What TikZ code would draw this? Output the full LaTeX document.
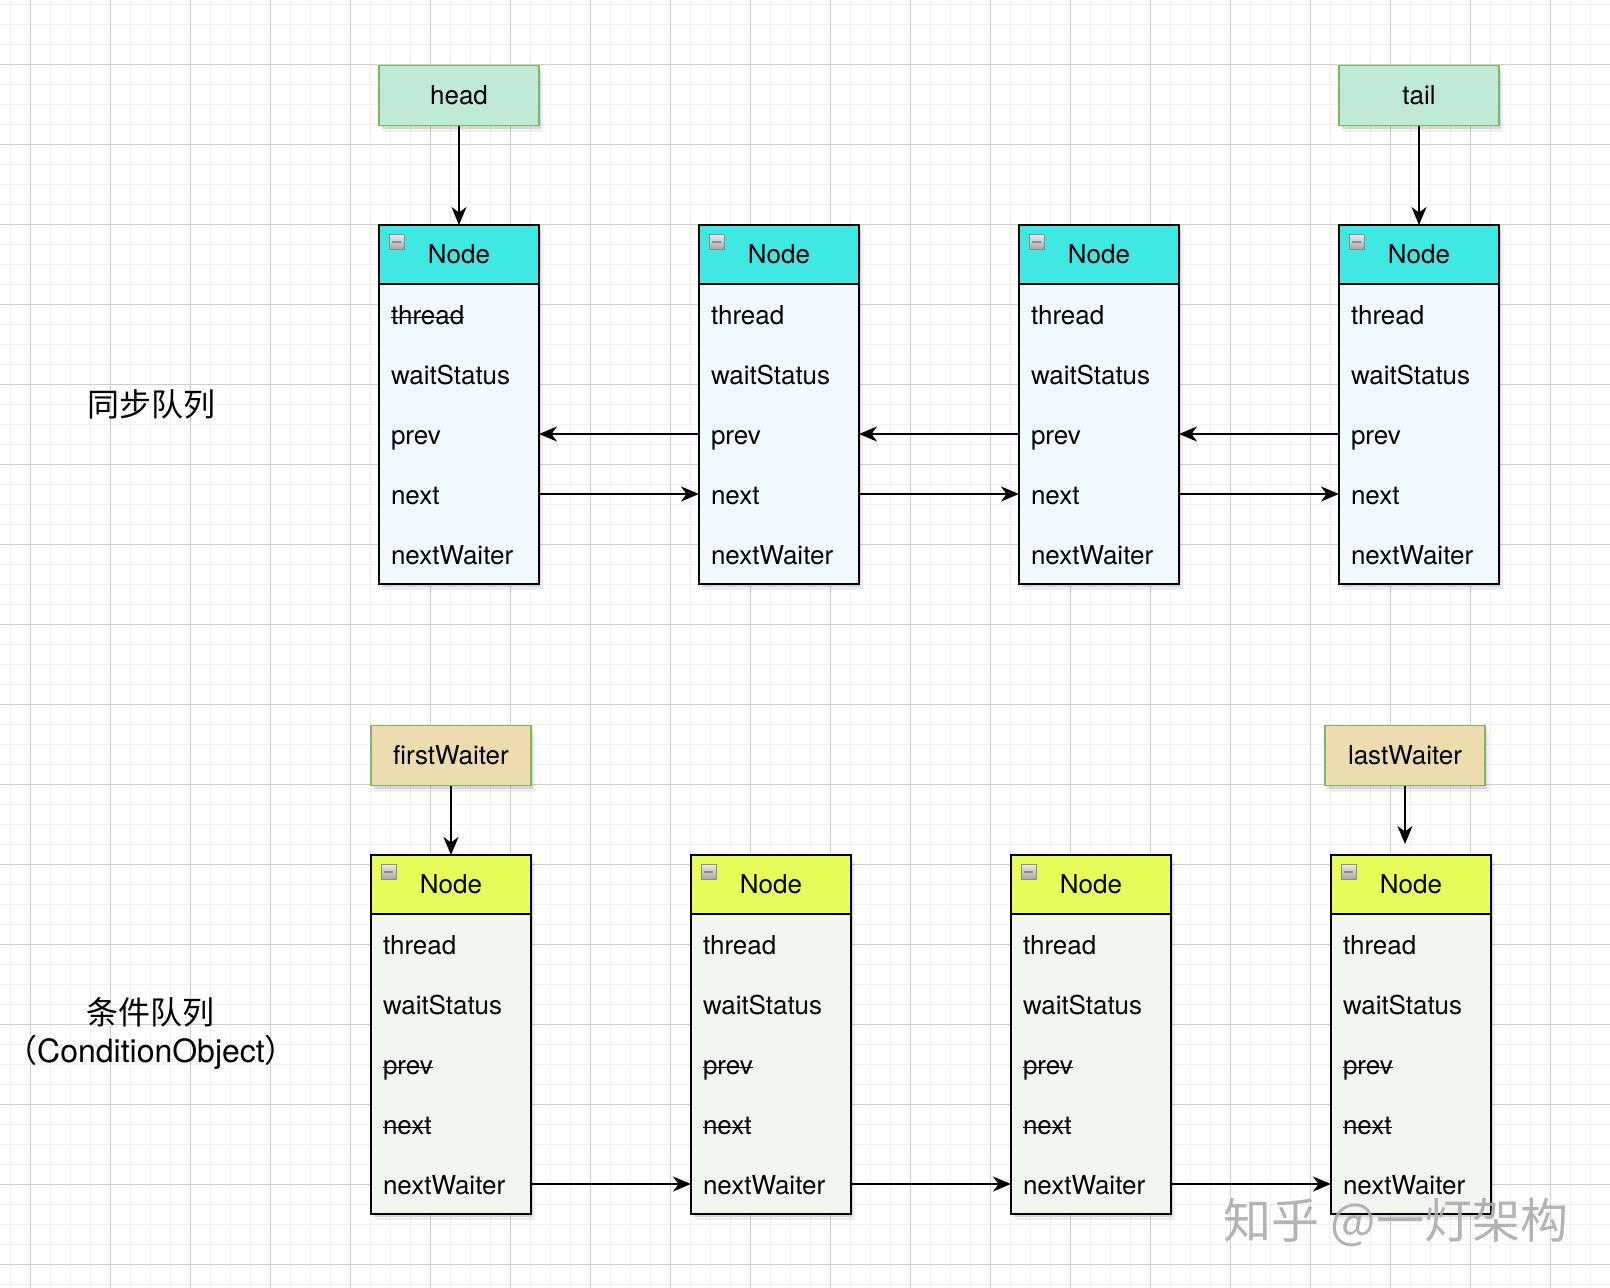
\documentclass[tikz,border=0pt]{standalone}
\usepackage{fontspec}
\setmainfont{TeX Gyre Heros}
\newfontfamily\cjk{Noto Sans CJK SC}
\newsavebox\struckbox
\newcommand{\struck}[1]{\sbox\struckbox{#1}\rlap{\vrule height 8pt depth -6.3pt width \wd\struckbox}\usebox\struckbox}
\usetikzlibrary{positioning,arrows.meta,shadows}
\definecolor{gridminor}{RGB}{241,241,241}
\definecolor{gridmajor}{RGB}{205,205,205}
\definecolor{ptrline}{RGB}{130,179,102}
\definecolor{ptrgreen}{RGB}{191,234,213}
\definecolor{ptrtan}{RGB}{236,220,174}
\definecolor{synchead}{RGB}{64,232,228}
\definecolor{syncbody}{RGB}{240,250,254}
\definecolor{condhead}{RGB}{232,252,90}
\definecolor{condbody}{RGB}{242,246,240}
\definecolor{shade}{RGB}{90,90,125}
\tikzset{
  soft/.style={drop shadow={shadow xshift=2pt,shadow yshift=-3pt,opacity=.16,fill=shade},
               drop shadow={shadow xshift=4pt,shadow yshift=-6pt,opacity=.09,fill=shade}},
  ptr/.style={draw=ptrline,line width=1.8pt,minimum width=160pt,minimum height=60pt,inner sep=0pt,soft,font=\fontsize{26}{30}\selectfont},
  frame/.style={draw,line width=1.8pt,minimum width=160pt,minimum height=359pt,inner sep=0pt,outer sep=0pt,soft},
  hdr/.style={draw,line width=1.8pt,minimum width=160pt,minimum height=59pt,inner sep=0pt,outer sep=0pt,anchor=north,font=\fontsize{26}{30}\selectfont},
  field/.style={minimum height=60pt,text width=136pt,inner xsep=12pt,inner ysep=0pt,outer sep=0pt,text height=24pt,text depth=3pt,align=left,font=\fontsize{26}{30}\selectfont},
  minus/.style={draw=gray!90,line width=.8pt,minimum size=15pt,inner sep=0pt,anchor=north west,top color=gray!15,bottom color=gray!70,
    path picture={\draw[line width=2.4pt] ([xshift=3pt]path picture bounding box.west) -- ([xshift=-3pt]path picture bounding box.east);}},
  link/.style={line width=2pt,-{Stealth[length=18pt,width=15pt,inset=5.5pt]}}
}
\begin{document}
\begin{tikzpicture}[x=1pt,y=-1pt]
\useasboundingbox[fill=white] (0,0) rectangle (1610,1288);
\foreach \x in {10.7,30.7,...,1610} \draw[gridminor,line width=1.5pt] (\x,0) -- (\x,1288);
\foreach \y in {4.3,24.3,...,1288} \draw[gridminor,line width=1.5pt] (0,\y) -- (1610,\y);
\foreach \x in {30.7,110.7,...,1610} \draw[gridmajor,line width=1pt] (\x,0) -- (\x,1288);
\foreach \y in {64.3,144.3,...,1288} \draw[gridmajor,line width=1pt] (0,\y) -- (1610,\y);

\node[font=\cjk\fontsize{32}{38}\selectfont] (synclabel) at (151,404) {同步队列};
\node[align=center,font=\fontsize{32}{38}\selectfont] (condlabel) at (151,1034)
  {{\cjk\fontsize{32}{38}\selectfont 条件队列}\\{\cjk （}ConditionObject{\cjk ）}};

\foreach \i/\fld in {1/\struck{thread},2/thread,3/thread,4/thread} {
  \node[frame,fill=syncbody] (s\i) at ({139+320*\i},404.5) {};
  \node[hdr,fill=synchead] (s\i-h) at (s\i.north) {Node};
  \node[minus] (s\i-m) at ([xshift=10pt,yshift=-9pt]s\i.north west) {};
  \node[field,below=0pt of s\i-h] (s\i-a) {\fld};
  \node[field,below=0pt of s\i-a] (s\i-b) {waitStatus};
  \node[field,below=0pt of s\i-b] (s\i-c) {prev};
  \node[field,below=0pt of s\i-c] (s\i-d) {next};
  \node[field,below=0pt of s\i-d] (s\i-e) {nextWaiter};
}
\foreach \i in {1,...,4} {
  \node[frame,fill=condbody] (c\i) at ({131+320*\i},1034.5) {};
  \node[hdr,fill=condhead] (c\i-h) at (c\i.north) {Node};
  \node[minus] (c\i-m) at ([xshift=10pt,yshift=-9pt]c\i.north west) {};
  \node[field,below=0pt of c\i-h] (c\i-a) {thread};
  \node[field,below=0pt of c\i-a] (c\i-b) {waitStatus};
  \node[field,below=0pt of c\i-b] (c\i-c) {\struck{prev}};
  \node[field,below=0pt of c\i-c] (c\i-d) {\struck{next}};
  \node[field,below=0pt of c\i-d] (c\i-e) {nextWaiter};
}

\node[ptr,fill=ptrgreen] (head) at (459,95.5) {head};
\node[ptr,fill=ptrgreen] (tail) at (1419,95.5) {tail};
\node[ptr,fill=ptrtan] (first) at (451,755.5) {firstWaiter};
\node[ptr,fill=ptrtan] (last) at (1405,755.5) {lastWaiter};
\coordinate (lastend) at (1405,844);

\draw[link] (head) -- (s1-h);
\draw[link] (tail) -- (s4-h);
\draw[link] (first) -- (c1-h);
\draw[link] (last) -- (lastend);
\foreach \i/\j in {1/2,2/3,3/4} {
  \draw[link] (s\j-c.west) -- (s\i-c.east);
  \draw[link] (s\i-d.east) -- (s\j-d.west);
  \draw[link] (c\i-e.east) -- (c\j-e.west);
}

\node[font=\cjk\fontsize{48}{52}\selectfont,text=gray!65,opacity=.9] (mark) at (1396,1222) {知乎 @一灯架构};
\end{tikzpicture}
\end{document}
